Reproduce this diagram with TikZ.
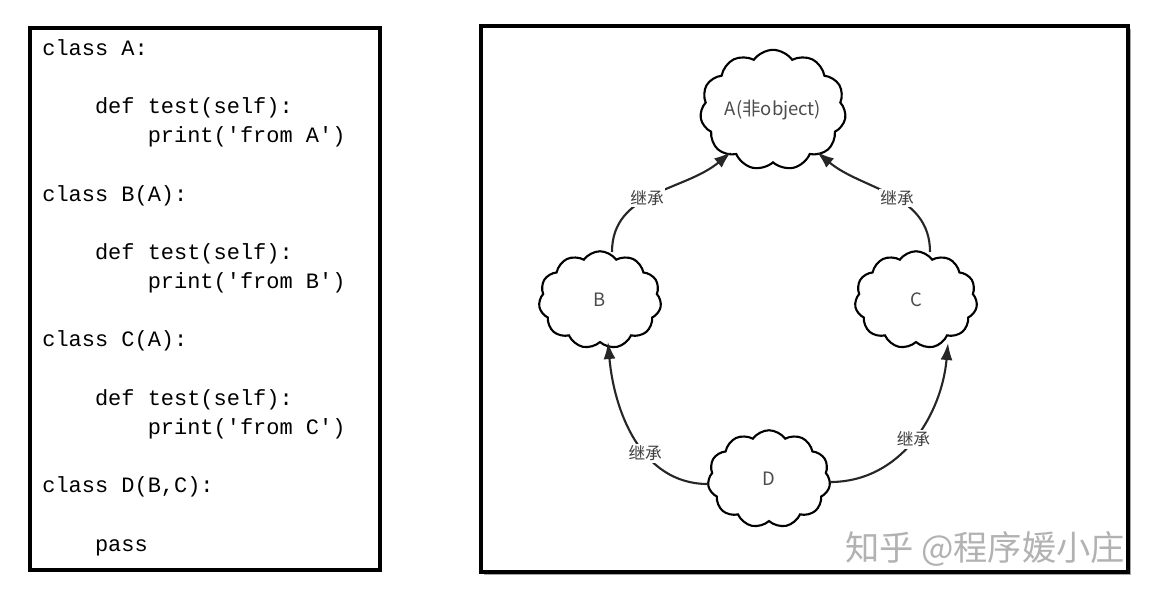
\documentclass[tikz,border=0pt]{standalone}
\usepackage{fontspec}
\setmonofont{Liberation Mono}
\newfontfamily\cjk{Noto Sans CJK SC}
\usetikzlibrary{shapes.symbols,arrows.meta}
\begin{document}
\begin{tikzpicture}[x=0.02cm,y=-0.02cm]

% Define the node styles
\tikzset{
  cls/.style={cloud, draw, line width=1.2pt, cloud puffs=11, cloud puff arc=110, aspect=1.3,
    minimum width=2.45cm, minimum height=1.95cm, inner sep=0pt, font=\cjk\fontsize{10.5}{12}\selectfont, text=black!70},
  inherit/.style={-{Latex[length=3.4mm,width=2.4mm]}, line width=1.2pt, black!85},
  lbl/.style={fill=white, inner sep=1pt, font=\cjk\fontsize{9.5}{11}\selectfont, text=black!75}
}
\useasboundingbox (0,0) rectangle (1155,596);

% Code panel
\draw[line width=2pt] (30,28) rectangle (380,570);
\node[anchor=north west, align=left, inner sep=0pt,
  font=\ttfamily\fontsize{12.5}{16.6}\selectfont] (code) at (42,39) {%
class A:\\[16.6pt]
\ \ \ \ def test(self):\\
\ \ \ \ \ \ \ \ print('from A')\\[16.6pt]
class B(A):\\[16.6pt]
\ \ \ \ def test(self):\\
\ \ \ \ \ \ \ \ print('from B')\\[16.6pt]
class C(A):\\[16.6pt]
\ \ \ \ def test(self):\\
\ \ \ \ \ \ \ \ print('from C')\\[16.6pt]
class D(B,C):\\[16.6pt]
\ \ \ \ pass};

% Diagram panel
\fill[black!35] (484,29) rectangle (1131,575);
\draw[line width=2pt, fill=white] (481,26) rectangle (1128,572);

% Define the nodes
\node[cls] (A) at (773,110) {A(非object)};
\node[cls] (B) at (600,300) {B};
\node[cls] (C) at (916,300) {C};
\node[cls] (D) at (769,479) {D};

% Add the edges
\draw[inherit] (612,252) to[out=90,in=220] node[lbl, pos=0.45] {继承} (731,152);
\draw[inherit] (930,252) to[out=90,in=-40] node[lbl, pos=0.45] {继承} (817,152);
\draw[inherit] (708,484) to[out=180,in=-85] node[lbl, pos=0.4] {继承} (608,342);
\draw[inherit] (830,482) to[out=0,in=-95] node[lbl, pos=0.5] {继承} (948,343);

% Watermark
\node[font=\cjk\fontsize{19.5}{22}\selectfont, text=black!30] (mark) at (985,549) {知乎 @程序媛小庄};

\end{tikzpicture}
\end{document}
